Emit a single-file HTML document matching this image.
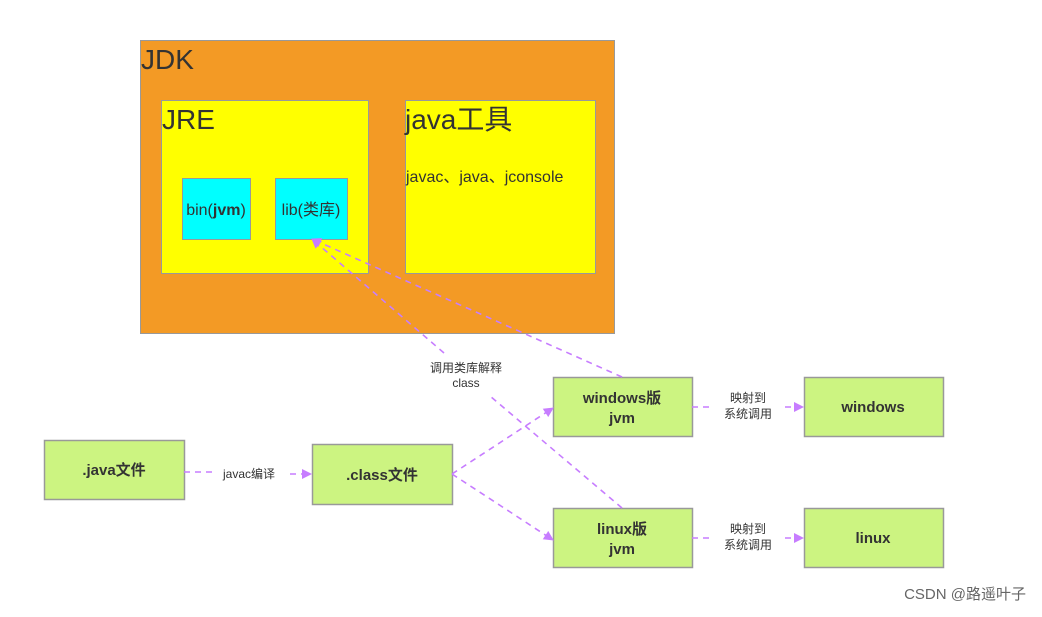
<!DOCTYPE html>
<html><head><meta charset="utf-8"><style>
body{margin:0;background:#fff;}
svg text{font-family:"Liberation Sans","Noto Sans CJK SC",sans-serif;fill:#333;}
</style></head><body>
<svg width="1042" height="612" viewBox="0 0 1042 612" xmlns="http://www.w3.org/2000/svg">
<defs>
<marker id="a" markerWidth="10" markerHeight="10" refX="9" refY="5" orient="auto" markerUnits="userSpaceOnUse"><path d="M0,0 L10,5 L0,10 z" fill="#c77dff"/></marker>
</defs>
<rect x="140.5" y="40.5" width="474" height="293" fill="#f39a25" stroke="#999"/>
<text x="141" y="69" font-size="28">JDK</text>
<rect x="161.5" y="100.5" width="207" height="173" fill="#ffff00" stroke="#999"/>
<text x="162" y="129" font-size="28">JRE</text>
<rect x="405.5" y="100.5" width="190" height="173" fill="#ffff00" stroke="#999"/>
<text x="405" y="129" font-size="28">java工具</text>
<text x="406" y="182" font-size="16">javac、java、jconsole</text>
<rect x="182.5" y="178.5" width="68" height="61" fill="#00ffff" stroke="#999"/>
<text x="216" y="215" font-size="16" text-anchor="middle">bin(<tspan font-weight="bold">jvm</tspan>)</text>
<rect x="275.5" y="178.5" width="72" height="61" fill="#00ffff" stroke="#999"/>
<text x="311" y="215" font-size="16" text-anchor="middle">lib(类库)</text>

<g fill="#ccf481" stroke="#999" stroke-width="1.5">
<rect x="44.5" y="440.5" width="140" height="59"/>
<rect x="312.5" y="444.5" width="140" height="60"/>
<rect x="553.5" y="377.5" width="139" height="59"/>
<rect x="553.5" y="508.5" width="139" height="59"/>
<rect x="804.5" y="377.5" width="139" height="59"/>
<rect x="804.5" y="508.5" width="139" height="59"/>
</g>
<g font-size="15" font-weight="bold" text-anchor="middle">
<text x="114" y="475">.java文件</text>
<text x="382" y="480">.class文件</text>
<text x="622" y="403">windows版</text><text x="622" y="423">jvm</text>
<text x="622" y="534">linux版</text><text x="622" y="554">jvm</text>
<text x="873" y="412">windows</text>
<text x="873" y="543">linux</text>
</g>
<g stroke="#c77dff" stroke-width="1.6" stroke-dasharray="6,5" fill="none">
<line x1="184" y1="472" x2="212" y2="472"/>
<line x1="290" y1="474" x2="311" y2="474" marker-end="url(#a)"/>
<line x1="452" y1="474" x2="553" y2="408" marker-end="url(#a)"/>
<line x1="452" y1="474" x2="553" y2="540" marker-end="url(#a)"/>
<line x1="622" y1="377" x2="312" y2="239" marker-end="url(#a)"/>
<line x1="622" y1="508" x2="490" y2="396"/>
<line x1="444" y1="353" x2="312" y2="239" marker-end="url(#a)"/>
<line x1="692" y1="407" x2="712" y2="407"/>
<line x1="785" y1="407" x2="803" y2="407" marker-end="url(#a)"/>
<line x1="692" y1="538" x2="712" y2="538"/>
<line x1="785" y1="538" x2="803" y2="538" marker-end="url(#a)"/>
</g>
<g font-size="12" text-anchor="middle" style="fill:#444">
<text x="249" y="478">javac编译</text>
<text x="466" y="372">调用类库解释</text><text x="466" y="387">class</text>
<text x="748" y="402">映射到</text><text x="748" y="418">系统调用</text>
<text x="748" y="533">映射到</text><text x="748" y="549">系统调用</text>
</g>
<text x="1026" y="599" font-size="15" text-anchor="end" style="fill:#666">CSDN @路遥叶子</text>
</svg>
</body></html>
